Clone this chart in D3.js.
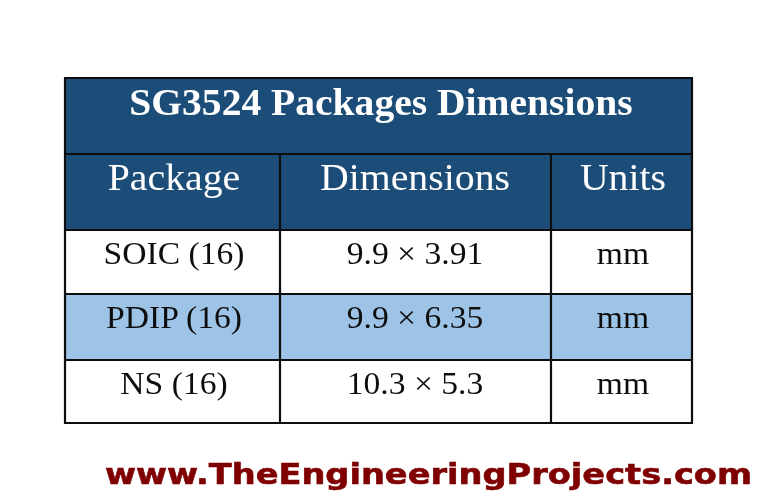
<!DOCTYPE html>
<html>
<head>
<meta charset="utf-8">
<script src="https://d3js.org/d3.v7.min.js"></script>
<style>
  html, body { margin: 0; padding: 0; background: #fff; }
  svg { display: block; }
</style>
</head>
<body>
<div id="chart"></div>
<script>
var title = 'SG3524 Packages Dimensions';
var columns = ['Package', 'Dimensions', 'Units'];
var packages = ['SOIC (16)', 'PDIP (16)', 'NS (16)'];
var dimensions = ['9.9 × 3.91', '9.9 × 6.35', '10.3 × 5.3'];
var units = ['mm', 'mm', 'mm'];
var watermark = 'www.TheEngineeringProjects.com';

var svg = d3.select('#chart').append('svg').attr('width', 768).attr('height', 501),
    serif = '"Liberation Serif", serif',
    navy = '#1f4e79',
    line = '#111';

// the reference is a slightly soft screenshot
svg.append('filter').attr('id', 'soft')
  .attr('filterUnits', 'userSpaceOnUse')
  .attr('x', 0).attr('y', 0).attr('width', 768).attr('height', 501)
  .append('feGaussianBlur').attr('stdDeviation', 0.7);

var root = svg.append('g').attr('filter', 'url(#soft)');

// column edges and row edges of the table
var x = d3.scaleOrdinal().domain(d3.range(4)).range([65, 280, 551, 692]),
    y = d3.scaleOrdinal().domain(['top', 'head', 'r0', 'r1', 'r2', 'end']).range([78, 154, 230, 294, 360, 423]);

var rowKeys = ['r0', 'r1', 'r2'];
var rowEnds = ['r1', 'r2', 'end'];
var colCentres = [174, 415, 623];

// the picture was stretched sideways, so text is wider than its height
function stretch(sel, k) {
  sel.each(function() {
    d3.select(this).attr('textLength', this.getComputedTextLength() * k)
      .attr('lengthAdjust', 'spacingAndGlyphs');
  });
}

// backgrounds
root.append('rect').attr('x', x(0)).attr('y', y('top'))
  .attr('width', x(3) - x(0)).attr('height', y('r0') - y('top')).attr('fill', navy);

root.selectAll('rect.row').data(packages).enter().append('rect')
  .attr('class', 'row')
  .attr('x', x(0)).attr('width', x(3) - x(0))
  .attr('y', function(d, i) { return y(rowKeys[i]); })
  .attr('height', function(d, i) { return y(rowEnds[i]) - y(rowKeys[i]); })
  .attr('fill', function(d, i) { return i === 1 ? '#9dc3e6' : '#fff'; });

// grid lines
var g = root.append('g').attr('stroke', line).attr('stroke-width', 2.2);
y.domain().forEach(function(k) {
  g.append('line').attr('x1', x(0) - 1).attr('x2', x(3) + 1).attr('y1', y(k)).attr('y2', y(k));
});
[0, 3].forEach(function(k) {
  g.append('line').attr('x1', x(k)).attr('x2', x(k)).attr('y1', y('top')).attr('y2', y('end'));
});
[1, 2].forEach(function(k) {
  g.append('line').attr('x1', x(k)).attr('x2', x(k)).attr('y1', y('head')).attr('y2', y('end'));
});

// text
root.append('text').text(title).attr('x', 381).attr('y', 114.5)
  .attr('text-anchor', 'middle').attr('font-family', serif)
  .attr('font-weight', 'bold').attr('font-size', 37.5).attr('fill', '#fff')
  .call(stretch, 1.055);

root.selectAll('text.col').data(columns).enter().append('text')
  .attr('class', 'col').text(function(d) { return d; })
  .attr('x', function(d, i) { return colCentres[i]; }).attr('y', 190)
  .attr('text-anchor', 'middle').attr('font-family', serif)
  .attr('font-size', 37).attr('fill', '#fff')
  .call(stretch, 1.075);

var rowBase = [263.5, 327.5, 393.5];
[packages, dimensions, units].forEach(function(col, c) {
  root.selectAll('text.c' + c).data(col).enter().append('text')
    .attr('class', 'c' + c).text(function(d) { return d; })
    .attr('x', colCentres[c]).attr('y', function(d, i) { return rowBase[i]; })
    .attr('text-anchor', 'middle').attr('font-family', serif)
    .attr('font-size', 32).attr('fill', '#111')
    .call(stretch, 1.05);
});

root.append('text').text(watermark).attr('x', 105).attr('y', 484)
  .attr('font-family', '"DejaVu Sans", sans-serif').attr('font-weight', 'bold')
  .attr('font-size', 29).attr('fill', '#7f0000')
  .attr('stroke', '#7f0000').attr('stroke-width', 0.6)
  .attr('textLength', 647).attr('lengthAdjust', 'spacingAndGlyphs');
</script>
</body>
</html>
